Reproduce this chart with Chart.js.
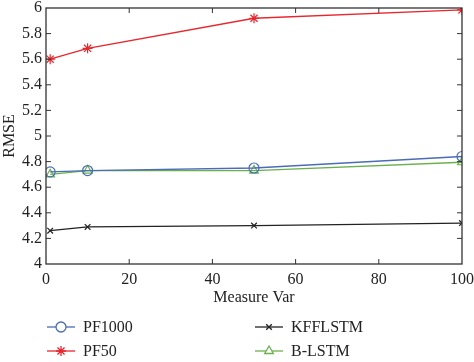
<!DOCTYPE html>
<html>
<head>
<meta charset="utf-8">
<script src="https://cdn.jsdelivr.net/npm/chart.js@4/dist/chart.umd.min.js"></script>
<style>
html,body{margin:0;padding:0;background:#fff;}
#wrap{width:474px;height:362px;position:relative;}
</style>
</head>
<body>
<div id="wrap"><canvas id="c" width="474" height="362"></canvas></div>
<script>
const measureVar = [1, 10, 50, 100];
const pf1000 = [4.72, 4.73, 4.75, 4.84];
const pf50 = [5.60, 5.685, 5.92, 5.985];
const kfflstm = [4.26, 4.29, 4.30, 4.32];
const blstm = [4.70, 4.73, 4.73, 4.795];
const seriesNames = ['PF1000', 'PF50', 'KFFLSTM', 'B-LSTM'];
const xTicks = [0, 20, 40, 60, 80, 100];
const yMin = 4, yMax = 6, yStep = 0.2;

const FONT = '"Liberation Serif", "DejaVu Serif", serif';
const AX = '#333333';

function pts(vals){ return measureVar.map((x,i)=>({x:x, y:vals[i]})); }

const ds = [
  {label: seriesNames[0], data: pts(pf1000), borderColor:'#4a6cb3', pointStyle:'circle', pointRadius:5, pointBorderColor:'#4a6cb3', pointBackgroundColor:'rgba(0,0,0,0)'},
  {label: seriesNames[1], data: pts(pf50), borderColor:'#e8262d', pointStyle:'star', pointRadius:5, pointBorderColor:'#e8262d', pointBackgroundColor:'rgba(0,0,0,0)'},
  {label: seriesNames[2], data: pts(kfflstm), borderColor:'#222222', pointStyle:'crossRot', pointRadius:4, pointBorderColor:'#222222', pointBackgroundColor:'rgba(0,0,0,0)'},
  {label: seriesNames[3], data: pts(blstm), borderColor:'#6bb04f', pointStyle:'triangle', pointRadius:5, pointBorderColor:'#6bb04f', pointBackgroundColor:'rgba(0,0,0,0)'}
];
ds.forEach(d=>{ d.borderWidth=1.3; d.pointBorderWidth=1.2; d.fill=false; d.tension=0; });

const boxPlugin = {
  id:'box',
  afterDraw(chart){
    const ctx = chart.ctx, a = chart.chartArea;
    const xs = chart.scales.x, ys = chart.scales.y;
    ctx.save();
    ctx.strokeStyle = AX; ctx.lineWidth = 1.3;
    ctx.strokeRect(a.left, a.top, a.right-a.left, a.bottom-a.top);
    ctx.lineWidth = 1;
    const tl = 5;
    xTicks.forEach(v=>{
      if (v===xs.min || v===xs.max) return;
      const px = xs.getPixelForValue(v);
      ctx.beginPath(); ctx.moveTo(px,a.bottom); ctx.lineTo(px,a.bottom-tl);
      ctx.moveTo(px,a.top); ctx.lineTo(px,a.top+tl); ctx.stroke();
    });
    for (let v=yMin+yStep; v<yMax-1e-6; v+=yStep){
      const py = ys.getPixelForValue(v);
      ctx.beginPath(); ctx.moveTo(a.left,py); ctx.lineTo(a.left+tl,py);
      ctx.moveTo(a.right,py); ctx.lineTo(a.right-tl,py); ctx.stroke();
    }
    // legend
    const pos = [[47,327],[47,351],[255,327],[255,351]];
    ctx.font = '16px ' + FONT;
    ctx.textBaseline = 'middle';
    ctx.textAlign = 'left';
    chart.data.datasets.forEach((d,i)=>{
      const [lx,ly] = pos[i];
      ctx.strokeStyle = d.borderColor; ctx.lineWidth = 1.3;
      ctx.beginPath(); ctx.moveTo(lx,ly); ctx.lineTo(lx+28,ly); ctx.stroke();
      ctx.fillStyle = '#fff';
      Chart.helpers.drawPoint(ctx, {pointStyle:d.pointStyle, radius:d.pointRadius, borderWidth:1.2, rotation:0}, lx+14, ly);
      ctx.fillStyle = '#222';
      ctx.fillText(d.label, lx+36, ly+1);
    });
    ctx.restore();
  }
};

new Chart(document.getElementById('c'), {
  type:'line',
  data:{datasets:ds},
  options:{
    responsive:false,
    animation:false,
    layout:{padding:{left:0,right:12,top:8,bottom:48}},
    plugins:{legend:{display:false}, tooltip:{enabled:false}},
    scales:{
      x:{
        type:'linear', min:0, max:100,
        afterBuildTicks(s){ s.ticks = xTicks.map(v=>({value:v})); },
        afterFit(s){ s.height = 50; s.paddingLeft = 0; s.paddingRight = 0; },
        grid:{display:false, drawTicks:false},
        border:{display:false},
        ticks:{padding:6, color:'#222', font:{family:FONT, size:16}, maxRotation:0, callback:v=>String(v)},
        title:{display:true, text:'Measure Var', color:'#222', font:{family:FONT, size:16}, padding:{top:0,bottom:7}}
      },
      y:{
        type:'linear', min:yMin, max:yMax,
        ticks:{stepSize:yStep, padding:4, color:'#222', font:{family:FONT, size:16}, callback:v=>String(+v.toFixed(1))},
        afterFit(s){ s.width = 46; s.paddingTop = 0; s.paddingBottom = 0; },
        grid:{display:false, drawTicks:false},
        border:{display:false},
        title:{display:true, text:'RMSE', color:'#222', font:{family:FONT, size:16}, padding:{top:0,bottom:0}}
      }
    }
  },
  plugins:[boxPlugin]
});
</script>
</body>
</html>
